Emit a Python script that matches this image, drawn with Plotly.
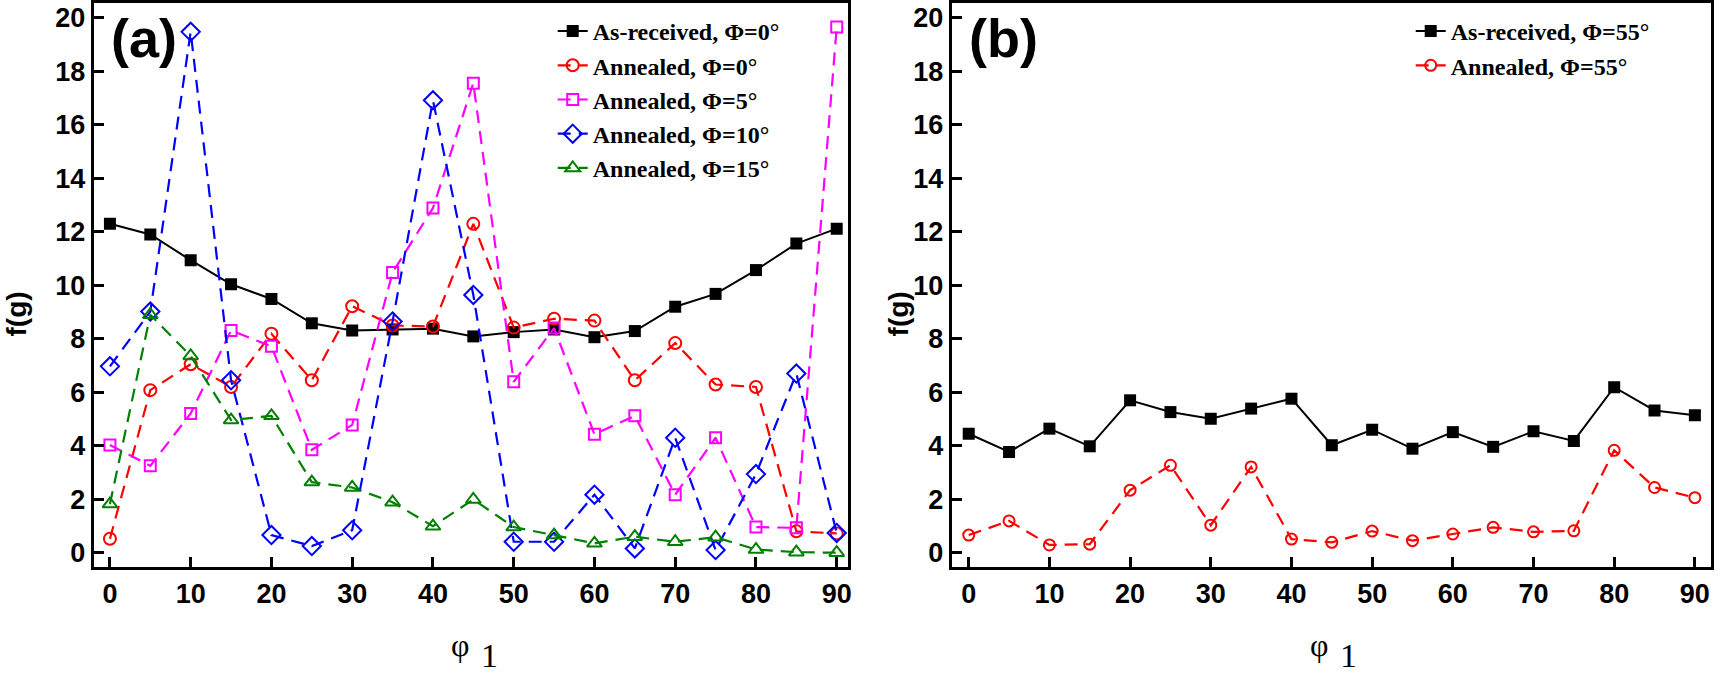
import plotly.graph_objects as go

phi1 = [0, 5, 10, 15, 20, 25, 30, 35, 40, 45, 50, 55, 60, 65, 70, 75, 80, 85, 90]

# Panel (a)
asrec_0 = [12.3, 11.9, 10.94, 10.04, 9.49, 8.58, 8.31, 8.35, 8.38, 8.09, 8.25, 8.35, 8.06, 8.29, 9.2, 9.68, 10.57, 11.56, 12.12]
ann_0 = [0.52, 6.08, 7.05, 6.2, 8.19, 6.45, 9.22, 8.5, 8.46, 12.3, 8.42, 8.75, 8.68, 6.45, 7.84, 6.29, 6.2, 0.8, 0.72]
ann_5 = [4.03, 3.25, 5.21, 8.31, 7.72, 3.85, 4.78, 10.48, 12.89, 17.56, 6.39, 8.4, 4.43, 5.12, 2.17, 4.3, 0.96, 0.93, 19.66]
ann_10 = [6.97, 9.02, 19.48, 6.45, 0.66, 0.25, 0.84, 8.65, 16.92, 9.64, 0.41, 0.41, 2.17, 0.16, 4.3, 0.1, 2.94, 6.7, 0.74]
ann_15 = [1.82, 8.9, 7.36, 4.96, 5.12, 2.64, 2.44, 1.89, 0.99, 1.99, 0.96, 0.66, 0.35, 0.6, 0.41, 0.58, 0.12, 0.02, 0.0]

# Panel (b)
asrec_55 = [4.45, 3.77, 4.64, 3.98, 5.7, 5.26, 5.01, 5.39, 5.76, 4.02, 4.6, 3.89, 4.51, 3.96, 4.54, 4.18, 6.19, 5.32, 5.14]
ann_55 = [0.66, 1.19, 0.29, 0.32, 2.34, 3.27, 1.03, 3.21, 0.51, 0.39, 0.81, 0.45, 0.7, 0.95, 0.78, 0.82, 3.83, 2.44, 2.06]

x_ticks = [0, 10, 20, 30, 40, 50, 60, 70, 80, 90]
y_ticks = [0, 2, 4, 6, 8, 10, 12, 14, 16, 18, 20]

W, H = 1720, 676
DASH = "13px,8px"

fig = go.Figure()

def add(y, name, color, symbol, size, dash, xa, ya, legend, lw=2.2, mlw=2):
    fig.add_trace(go.Scatter(
        x=phi1, y=y, name=name, mode="lines+markers",
        line=dict(color=color, width=lw, dash=dash),
        marker=dict(symbol=symbol, size=size, color=color,
                    line=dict(color=color, width=mlw)),
        xaxis=xa, yaxis=ya, legend=legend))

add(asrec_0, "As-received, Φ=0°", "#000000", "square", 12, "solid", "x", "y", "legend", lw=2, mlw=0)
add(ann_0, "Annealed, Φ=0°", "#FF0000", "circle-open", 12, DASH, "x", "y", "legend")
add(ann_5, "Annealed, Φ=5°", "#FF00FF", "square-open", 11, DASH, "x", "y", "legend")
add(ann_10, "Annealed, Φ=10°", "#0000FF", "diamond-open", 14, DASH, "x", "y", "legend")
add(ann_15, "Annealed, Φ=15°", "#008000", "triangle-up-open", 13, DASH, "x", "y", "legend")

add(asrec_55, "As-received, Φ=55°", "#000000", "square", 12, "solid", "x2", "y2", "legend2", lw=2, mlw=0)
add(ann_55, "Annealed, Φ=55°", "#FF0000", "circle-open", 11, DASH, "x2", "y2", "legend2")

tickfont = dict(family="Liberation Sans, Arial", size=27, color="black", weight="bold")

def xax(domain, rng):
    return dict(domain=domain, range=rng, tickvals=x_ticks, ticks="inside", ticklen=10,
                tickwidth=3, tickcolor="black", showline=True, linewidth=3, linecolor="black",
                mirror=True, showgrid=False, zeroline=False, tickfont=tickfont)

def yax(domain, anchor):
    return dict(domain=domain, range=[-0.54, 20.54], tickvals=y_ticks, ticks="inside", ticklen=10,
                tickwidth=3, tickcolor="black", showline=True, linewidth=3, linecolor="black",
                mirror=True, showgrid=False, zeroline=False, tickfont=tickfont, anchor=anchor)

ydom = [(H - 568) / H, (H - 3.5) / H]
legfont = dict(family="Liberation Serif, Times New Roman, serif", size=24, color="black", weight="bold")

fig.update_layout(
    width=W, height=H, margin=dict(l=0, r=0, t=0, b=0),
    paper_bgcolor="white", plot_bgcolor="white",
    xaxis=xax([94 / W, 850 / W], [-2.0, 91.4]),
    yaxis=yax(ydom, "x"),
    xaxis2=xax([954 / W, 1715 / W], [-2.1, 92.0]),
    yaxis2=yax(ydom, "x2"),
    legend=dict(x=554 / W, y=(H - 9) / H, xanchor="left", yanchor="top",
                bgcolor="rgba(0,0,0,0)", font=legfont, tracegroupgap=0),
    legend2=dict(x=1414 / W, y=(H - 9) / H, xanchor="left", yanchor="top",
                 bgcolor="rgba(0,0,0,0)", font=legfont, tracegroupgap=0),
    showlegend=True,
)

ann = []
# panel labels
for xp, lab in [(110, "(a)"), (970, "(b)")]:
    ann.append(dict(x=xp / W, y=(H - 38) / H, xref="paper", yref="paper", xanchor="left", yanchor="middle",
                    text=lab, showarrow=False, borderpad=0,
                    font=dict(family="Liberation Sans, Arial", size=54, color="black", weight="bold")))
# y titles
for xp in [17, 901]:
    ann.append(dict(x=xp / W, y=(H - 314) / H, xref="paper", yref="paper", xanchor="center", yanchor="middle",
                    text="f(g)", textangle=-90, showarrow=False,
                    font=dict(family="Liberation Sans, Arial", size=28, color="black", weight="bold")))
# x titles
for xc in [461, 1322]:
    ann.append(dict(x=xc / W, y=(H - 646) / H, xref="paper", yref="paper", xanchor="center", yanchor="middle",
                    text="φ", showarrow=False,
                    font=dict(family="Liberation Serif, Times New Roman, serif", size=32, color="black")))
    ann.append(dict(x=(xc + 30) / W, y=(H - 656) / H, xref="paper", yref="paper", xanchor="center", yanchor="middle",
                    text="1", showarrow=False,
                    font=dict(family="Liberation Serif, Times New Roman, serif", size=34, color="black")))
fig.update_layout(annotations=ann)

fig.write_html("out.html")
